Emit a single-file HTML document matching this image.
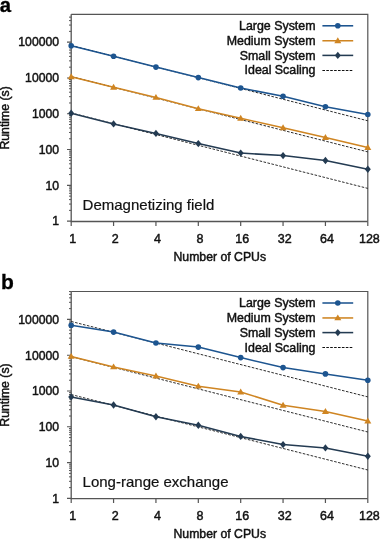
<!DOCTYPE html>
<html><head><meta charset="utf-8"><style>
html,body{margin:0;padding:0;background:#fff;width:380px;height:539px;overflow:hidden}
svg{display:block;font-family:"Liberation Sans",sans-serif;will-change:transform}
text{fill:#111;stroke:#111;stroke-width:0.45px}
.t{font-size:12.5px}
.ty{font-size:12.2px}
.ax{font-size:12.25px}
.lg{font-size:12.4px}
.nm{font-size:15px;stroke-width:0.2px}
.lbl{font-size:21px;font-weight:bold;fill:#000;stroke:#000;stroke-width:0.3px}
</style></head><body>
<svg width="380" height="539" viewBox="0 0 380 539">
<text class="lbl" x="-0.2" y="11.6" style="font-size:20.3px">a</text>
<path d="M71.2 14.3H367.8V221.5" fill="none" stroke="#555" stroke-width="1.2"/>
<path d="M71.2 210.37h-2.2M71.2 204.07h-2.2M71.2 199.6h-2.2M71.2 196.13h-2.2M71.2 193.29h-2.2M71.2 190.9h-2.2M71.2 188.82h-2.2M71.2 186.99h-2.2M71.2 174.57h-2.2M71.2 168.27h-2.2M71.2 163.8h-2.2M71.2 160.33h-2.2M71.2 157.49h-2.2M71.2 155.1h-2.2M71.2 153.02h-2.2M71.2 151.19h-2.2M71.2 138.77h-2.2M71.2 132.47h-2.2M71.2 128h-2.2M71.2 124.53h-2.2M71.2 121.69h-2.2M71.2 119.3h-2.2M71.2 117.22h-2.2M71.2 115.39h-2.2M71.2 102.97h-2.2M71.2 96.67h-2.2M71.2 92.2h-2.2M71.2 88.73h-2.2M71.2 85.89h-2.2M71.2 83.5h-2.2M71.2 81.42h-2.2M71.2 79.59h-2.2M71.2 67.17h-2.2M71.2 60.87h-2.2M71.2 56.4h-2.2M71.2 52.93h-2.2M71.2 50.09h-2.2M71.2 47.7h-2.2M71.2 45.62h-2.2M71.2 43.79h-2.2M71.2 31.37h-2.2M71.2 25.07h-2.2M71.2 20.6h-2.2M71.2 17.13h-2.2" stroke="#555" stroke-width="1"/>
<text class="ty" x="59" y="225.45" text-anchor="end">1</text>
<text class="ty" x="59" y="189.65" text-anchor="end">10</text>
<text class="ty" x="59" y="153.85" text-anchor="end">100</text>
<text class="ty" x="59" y="118.05" text-anchor="end">1000</text>
<text class="ty" x="59" y="82.25" text-anchor="end">10000</text>
<text class="ty" x="59" y="46.45" text-anchor="end">100000</text>
<path d="M71.2 221.15h-4.2M71.2 185.35h-4.2M71.2 149.55h-4.2M71.2 113.75h-4.2M71.2 77.95h-4.2M71.2 42.15h-4.2" stroke="#555" stroke-width="1.1"/>
<text class="t" x="72.8" y="242.5" text-anchor="middle">1</text>
<text class="t" x="115.17" y="242.5" text-anchor="middle">2</text>
<text class="t" x="157.54" y="242.5" text-anchor="middle">4</text>
<text class="t" x="199.91" y="242.5" text-anchor="middle">8</text>
<text class="t" x="242.29" y="242.5" text-anchor="middle">16</text>
<text class="t" x="284.66" y="242.5" text-anchor="middle">32</text>
<text class="t" x="327.03" y="242.5" text-anchor="middle">64</text>
<text class="t" x="369.4" y="242.5" text-anchor="middle">128</text>
<path d="M71.2 221.5v4.4M113.57 221.5v4.4M155.94 221.5v4.4M198.31 221.5v4.4M240.69 221.5v4.4M283.06 221.5v4.4M325.43 221.5v4.4M367.8 221.5v4.4" stroke="#555" stroke-width="1.2"/>
<path d="M71.2 14.3V221.5H367.8" fill="none" stroke="#555" stroke-width="1.3"/>
<text class="ax" x="219.8" y="260.8" text-anchor="middle">Number of CPUs</text>
<text class="ax" transform="translate(9.4 117.9) rotate(-90)" text-anchor="middle">Runtime (s)</text>
<text class="nm" x="82.6" y="210">Demagnetizing field</text>
<path d="M71.2 45.36L367.8 120.8" stroke="#222" stroke-width="0.95" stroke-dasharray="2.6 1.45"/>
<path d="M71.2 76.46L367.8 151.9" stroke="#222" stroke-width="0.95" stroke-dasharray="2.6 1.45"/>
<path d="M71.2 112.96L367.8 188.4" stroke="#222" stroke-width="0.95" stroke-dasharray="2.6 1.45"/>
<path d="M71.2 45.8L113.57 56.3L155.94 67.1L198.31 77.6L240.69 88L283.06 96.3L325.43 106.7L367.8 114.5" fill="none" stroke="#1d5590" stroke-width="1.55" stroke-linejoin="round"/>
<circle cx="71.2" cy="45.8" r="2.8" fill="#1d5590"/>
<circle cx="113.57" cy="56.3" r="2.8" fill="#1d5590"/>
<circle cx="155.94" cy="67.1" r="2.8" fill="#1d5590"/>
<circle cx="198.31" cy="77.6" r="2.8" fill="#1d5590"/>
<circle cx="240.69" cy="88" r="2.8" fill="#1d5590"/>
<circle cx="283.06" cy="96.3" r="2.8" fill="#1d5590"/>
<circle cx="325.43" cy="106.7" r="2.8" fill="#1d5590"/>
<circle cx="367.8" cy="114.5" r="2.8" fill="#1d5590"/>
<path d="M71.2 76.8L113.57 87.3L155.94 97.4L198.31 108.7L240.69 118.3L283.06 127.8L325.43 137.6L367.8 147.5" fill="none" stroke="#cf8522" stroke-width="1.55" stroke-linejoin="round"/>
<path d="M71.2 73.3L74.7 79.2L67.7 79.2Z" fill="#cf8522"/>
<path d="M113.57 83.8L117.07 89.7L110.07 89.7Z" fill="#cf8522"/>
<path d="M155.94 93.9L159.44 99.8L152.44 99.8Z" fill="#cf8522"/>
<path d="M198.31 105.2L201.81 111.1L194.81 111.1Z" fill="#cf8522"/>
<path d="M240.69 114.8L244.19 120.7L237.19 120.7Z" fill="#cf8522"/>
<path d="M283.06 124.3L286.56 130.2L279.56 130.2Z" fill="#cf8522"/>
<path d="M325.43 134.1L328.93 140L321.93 140Z" fill="#cf8522"/>
<path d="M367.8 144L371.3 149.9L364.3 149.9Z" fill="#cf8522"/>
<path d="M71.2 113.2L113.57 123.9L155.94 133.4L198.31 143.6L240.69 153.1L283.06 155.6L325.43 160.5L367.8 169.3" fill="none" stroke="#243b52" stroke-width="1.55" stroke-linejoin="round"/>
<path d="M71.2 109.5L74.2 113.2L71.2 116.9L68.2 113.2Z" fill="#243b52"/>
<path d="M113.57 120.2L116.57 123.9L113.57 127.6L110.57 123.9Z" fill="#243b52"/>
<path d="M155.94 129.7L158.94 133.4L155.94 137.1L152.94 133.4Z" fill="#243b52"/>
<path d="M198.31 139.9L201.31 143.6L198.31 147.3L195.31 143.6Z" fill="#243b52"/>
<path d="M240.69 149.4L243.69 153.1L240.69 156.8L237.69 153.1Z" fill="#243b52"/>
<path d="M283.06 151.9L286.06 155.6L283.06 159.3L280.06 155.6Z" fill="#243b52"/>
<path d="M325.43 156.8L328.43 160.5L325.43 164.2L322.43 160.5Z" fill="#243b52"/>
<path d="M367.8 165.6L370.8 169.3L367.8 173L364.8 169.3Z" fill="#243b52"/>
<text class="lg" x="315.5" y="30.2" text-anchor="end">Large System</text>
<path d="M322.4 25.8H353.2" stroke="#1d5590" stroke-width="1.55"/>
<circle cx="337.8" cy="25.8" r="2.8" fill="#1d5590"/>
<text class="lg" x="315.5" y="45.15" text-anchor="end">Medium System</text>
<path d="M322.4 40.75H353.2" stroke="#cf8522" stroke-width="1.55"/>
<path d="M337.8 37.25L341.3 43.15L334.3 43.15Z" fill="#cf8522"/>
<text class="lg" x="315.5" y="59.8" text-anchor="end">Small System</text>
<path d="M322.4 55.4H353.2" stroke="#243b52" stroke-width="1.55"/>
<path d="M337.8 51.7L340.8 55.4L337.8 59.1L334.8 55.4Z" fill="#243b52"/>
<text class="lg" x="315.5" y="74.45" text-anchor="end">Ideal Scaling</text>
<path d="M322.4 70.5H353.2" stroke="#111" stroke-width="1" stroke-dasharray="2.6 1.3"/>
<text class="lbl" x="0.9" y="289" style="font-size:21px">b</text>
<path d="M71.2 291.5H367.8V498.6" fill="none" stroke="#555" stroke-width="1.2"/>
<path d="M71.2 487.62h-2.2M71.2 481.32h-2.2M71.2 476.85h-2.2M71.2 473.38h-2.2M71.2 470.54h-2.2M71.2 468.15h-2.2M71.2 466.07h-2.2M71.2 464.24h-2.2M71.2 451.82h-2.2M71.2 445.52h-2.2M71.2 441.05h-2.2M71.2 437.58h-2.2M71.2 434.74h-2.2M71.2 432.35h-2.2M71.2 430.27h-2.2M71.2 428.44h-2.2M71.2 416.02h-2.2M71.2 409.72h-2.2M71.2 405.25h-2.2M71.2 401.78h-2.2M71.2 398.94h-2.2M71.2 396.55h-2.2M71.2 394.47h-2.2M71.2 392.64h-2.2M71.2 380.22h-2.2M71.2 373.92h-2.2M71.2 369.45h-2.2M71.2 365.98h-2.2M71.2 363.14h-2.2M71.2 360.75h-2.2M71.2 358.67h-2.2M71.2 356.84h-2.2M71.2 344.42h-2.2M71.2 338.12h-2.2M71.2 333.65h-2.2M71.2 330.18h-2.2M71.2 327.34h-2.2M71.2 324.95h-2.2M71.2 322.87h-2.2M71.2 321.04h-2.2M71.2 308.62h-2.2M71.2 302.32h-2.2M71.2 297.85h-2.2M71.2 294.38h-2.2M71.2 291.54h-2.2" stroke="#555" stroke-width="1"/>
<text class="ty" x="59" y="502.7" text-anchor="end">1</text>
<text class="ty" x="59" y="466.9" text-anchor="end">10</text>
<text class="ty" x="59" y="431.1" text-anchor="end">100</text>
<text class="ty" x="59" y="395.3" text-anchor="end">1000</text>
<text class="ty" x="59" y="359.5" text-anchor="end">10000</text>
<text class="ty" x="59" y="323.7" text-anchor="end">100000</text>
<path d="M71.2 498.4h-4.2M71.2 462.6h-4.2M71.2 426.8h-4.2M71.2 391h-4.2M71.2 355.2h-4.2M71.2 319.4h-4.2" stroke="#555" stroke-width="1.1"/>
<text class="t" x="72.8" y="519.6" text-anchor="middle">1</text>
<text class="t" x="115.17" y="519.6" text-anchor="middle">2</text>
<text class="t" x="157.54" y="519.6" text-anchor="middle">4</text>
<text class="t" x="199.91" y="519.6" text-anchor="middle">8</text>
<text class="t" x="242.29" y="519.6" text-anchor="middle">16</text>
<text class="t" x="284.66" y="519.6" text-anchor="middle">32</text>
<text class="t" x="327.03" y="519.6" text-anchor="middle">64</text>
<text class="t" x="369.4" y="519.6" text-anchor="middle">128</text>
<path d="M71.2 498.6v4.4M113.57 498.6v4.4M155.94 498.6v4.4M198.31 498.6v4.4M240.69 498.6v4.4M283.06 498.6v4.4M325.43 498.6v4.4M367.8 498.6v4.4" stroke="#555" stroke-width="1.2"/>
<path d="M71.2 291.5V498.6H367.8" fill="none" stroke="#555" stroke-width="1.3"/>
<text class="ax" x="219.8" y="537.9" text-anchor="middle">Number of CPUs</text>
<text class="ax" transform="translate(9.4 395.05) rotate(-90)" text-anchor="middle">Runtime (s)</text>
<text class="nm" x="82.6" y="487.1">Long-range exchange</text>
<path d="M71.2 321.46L367.8 396.9" stroke="#222" stroke-width="0.95" stroke-dasharray="2.6 1.45"/>
<path d="M71.2 356.56L367.8 432" stroke="#222" stroke-width="0.95" stroke-dasharray="2.6 1.45"/>
<path d="M71.2 394.56L367.8 470" stroke="#222" stroke-width="0.95" stroke-dasharray="2.6 1.45"/>
<path d="M71.2 325.2L113.57 332.1L155.94 343L198.31 347.1L240.69 357.6L283.06 367.6L325.43 373.9L367.8 380.2" fill="none" stroke="#1d5590" stroke-width="1.55" stroke-linejoin="round"/>
<circle cx="71.2" cy="325.2" r="2.8" fill="#1d5590"/>
<circle cx="113.57" cy="332.1" r="2.8" fill="#1d5590"/>
<circle cx="155.94" cy="343" r="2.8" fill="#1d5590"/>
<circle cx="198.31" cy="347.1" r="2.8" fill="#1d5590"/>
<circle cx="240.69" cy="357.6" r="2.8" fill="#1d5590"/>
<circle cx="283.06" cy="367.6" r="2.8" fill="#1d5590"/>
<circle cx="325.43" cy="373.9" r="2.8" fill="#1d5590"/>
<circle cx="367.8" cy="380.2" r="2.8" fill="#1d5590"/>
<path d="M71.2 356.4L113.57 366.9L155.94 376.1L198.31 386.2L240.69 392L283.06 405.3L325.43 411.6L367.8 421" fill="none" stroke="#cf8522" stroke-width="1.55" stroke-linejoin="round"/>
<path d="M71.2 352.9L74.7 358.8L67.7 358.8Z" fill="#cf8522"/>
<path d="M113.57 363.4L117.07 369.3L110.07 369.3Z" fill="#cf8522"/>
<path d="M155.94 372.6L159.44 378.5L152.44 378.5Z" fill="#cf8522"/>
<path d="M198.31 382.7L201.81 388.6L194.81 388.6Z" fill="#cf8522"/>
<path d="M240.69 388.5L244.19 394.4L237.19 394.4Z" fill="#cf8522"/>
<path d="M283.06 401.8L286.56 407.7L279.56 407.7Z" fill="#cf8522"/>
<path d="M325.43 408.1L328.93 414L321.93 414Z" fill="#cf8522"/>
<path d="M367.8 417.5L371.3 423.4L364.3 423.4Z" fill="#cf8522"/>
<path d="M71.2 396.9L113.57 405L155.94 416.7L198.31 425.2L240.69 436.4L283.06 444.6L325.43 447.9L367.8 456.2" fill="none" stroke="#243b52" stroke-width="1.55" stroke-linejoin="round"/>
<path d="M71.2 393.2L74.2 396.9L71.2 400.6L68.2 396.9Z" fill="#243b52"/>
<path d="M113.57 401.3L116.57 405L113.57 408.7L110.57 405Z" fill="#243b52"/>
<path d="M155.94 413L158.94 416.7L155.94 420.4L152.94 416.7Z" fill="#243b52"/>
<path d="M198.31 421.5L201.31 425.2L198.31 428.9L195.31 425.2Z" fill="#243b52"/>
<path d="M240.69 432.7L243.69 436.4L240.69 440.1L237.69 436.4Z" fill="#243b52"/>
<path d="M283.06 440.9L286.06 444.6L283.06 448.3L280.06 444.6Z" fill="#243b52"/>
<path d="M325.43 444.2L328.43 447.9L325.43 451.6L322.43 447.9Z" fill="#243b52"/>
<path d="M367.8 452.5L370.8 456.2L367.8 459.9L364.8 456.2Z" fill="#243b52"/>
<text class="lg" x="315.5" y="307.4" text-anchor="end">Large System</text>
<path d="M322.4 303H353.2" stroke="#1d5590" stroke-width="1.55"/>
<circle cx="337.8" cy="303" r="2.8" fill="#1d5590"/>
<text class="lg" x="315.5" y="322.35" text-anchor="end">Medium System</text>
<path d="M322.4 317.95H353.2" stroke="#cf8522" stroke-width="1.55"/>
<path d="M337.8 314.45L341.3 320.35L334.3 320.35Z" fill="#cf8522"/>
<text class="lg" x="315.5" y="337" text-anchor="end">Small System</text>
<path d="M322.4 332.6H353.2" stroke="#243b52" stroke-width="1.55"/>
<path d="M337.8 328.9L340.8 332.6L337.8 336.3L334.8 332.6Z" fill="#243b52"/>
<text class="lg" x="315.5" y="351.65" text-anchor="end">Ideal Scaling</text>
<path d="M322.4 347.5H353.2" stroke="#111" stroke-width="1" stroke-dasharray="2.6 1.3"/>
</svg>
</body></html>
